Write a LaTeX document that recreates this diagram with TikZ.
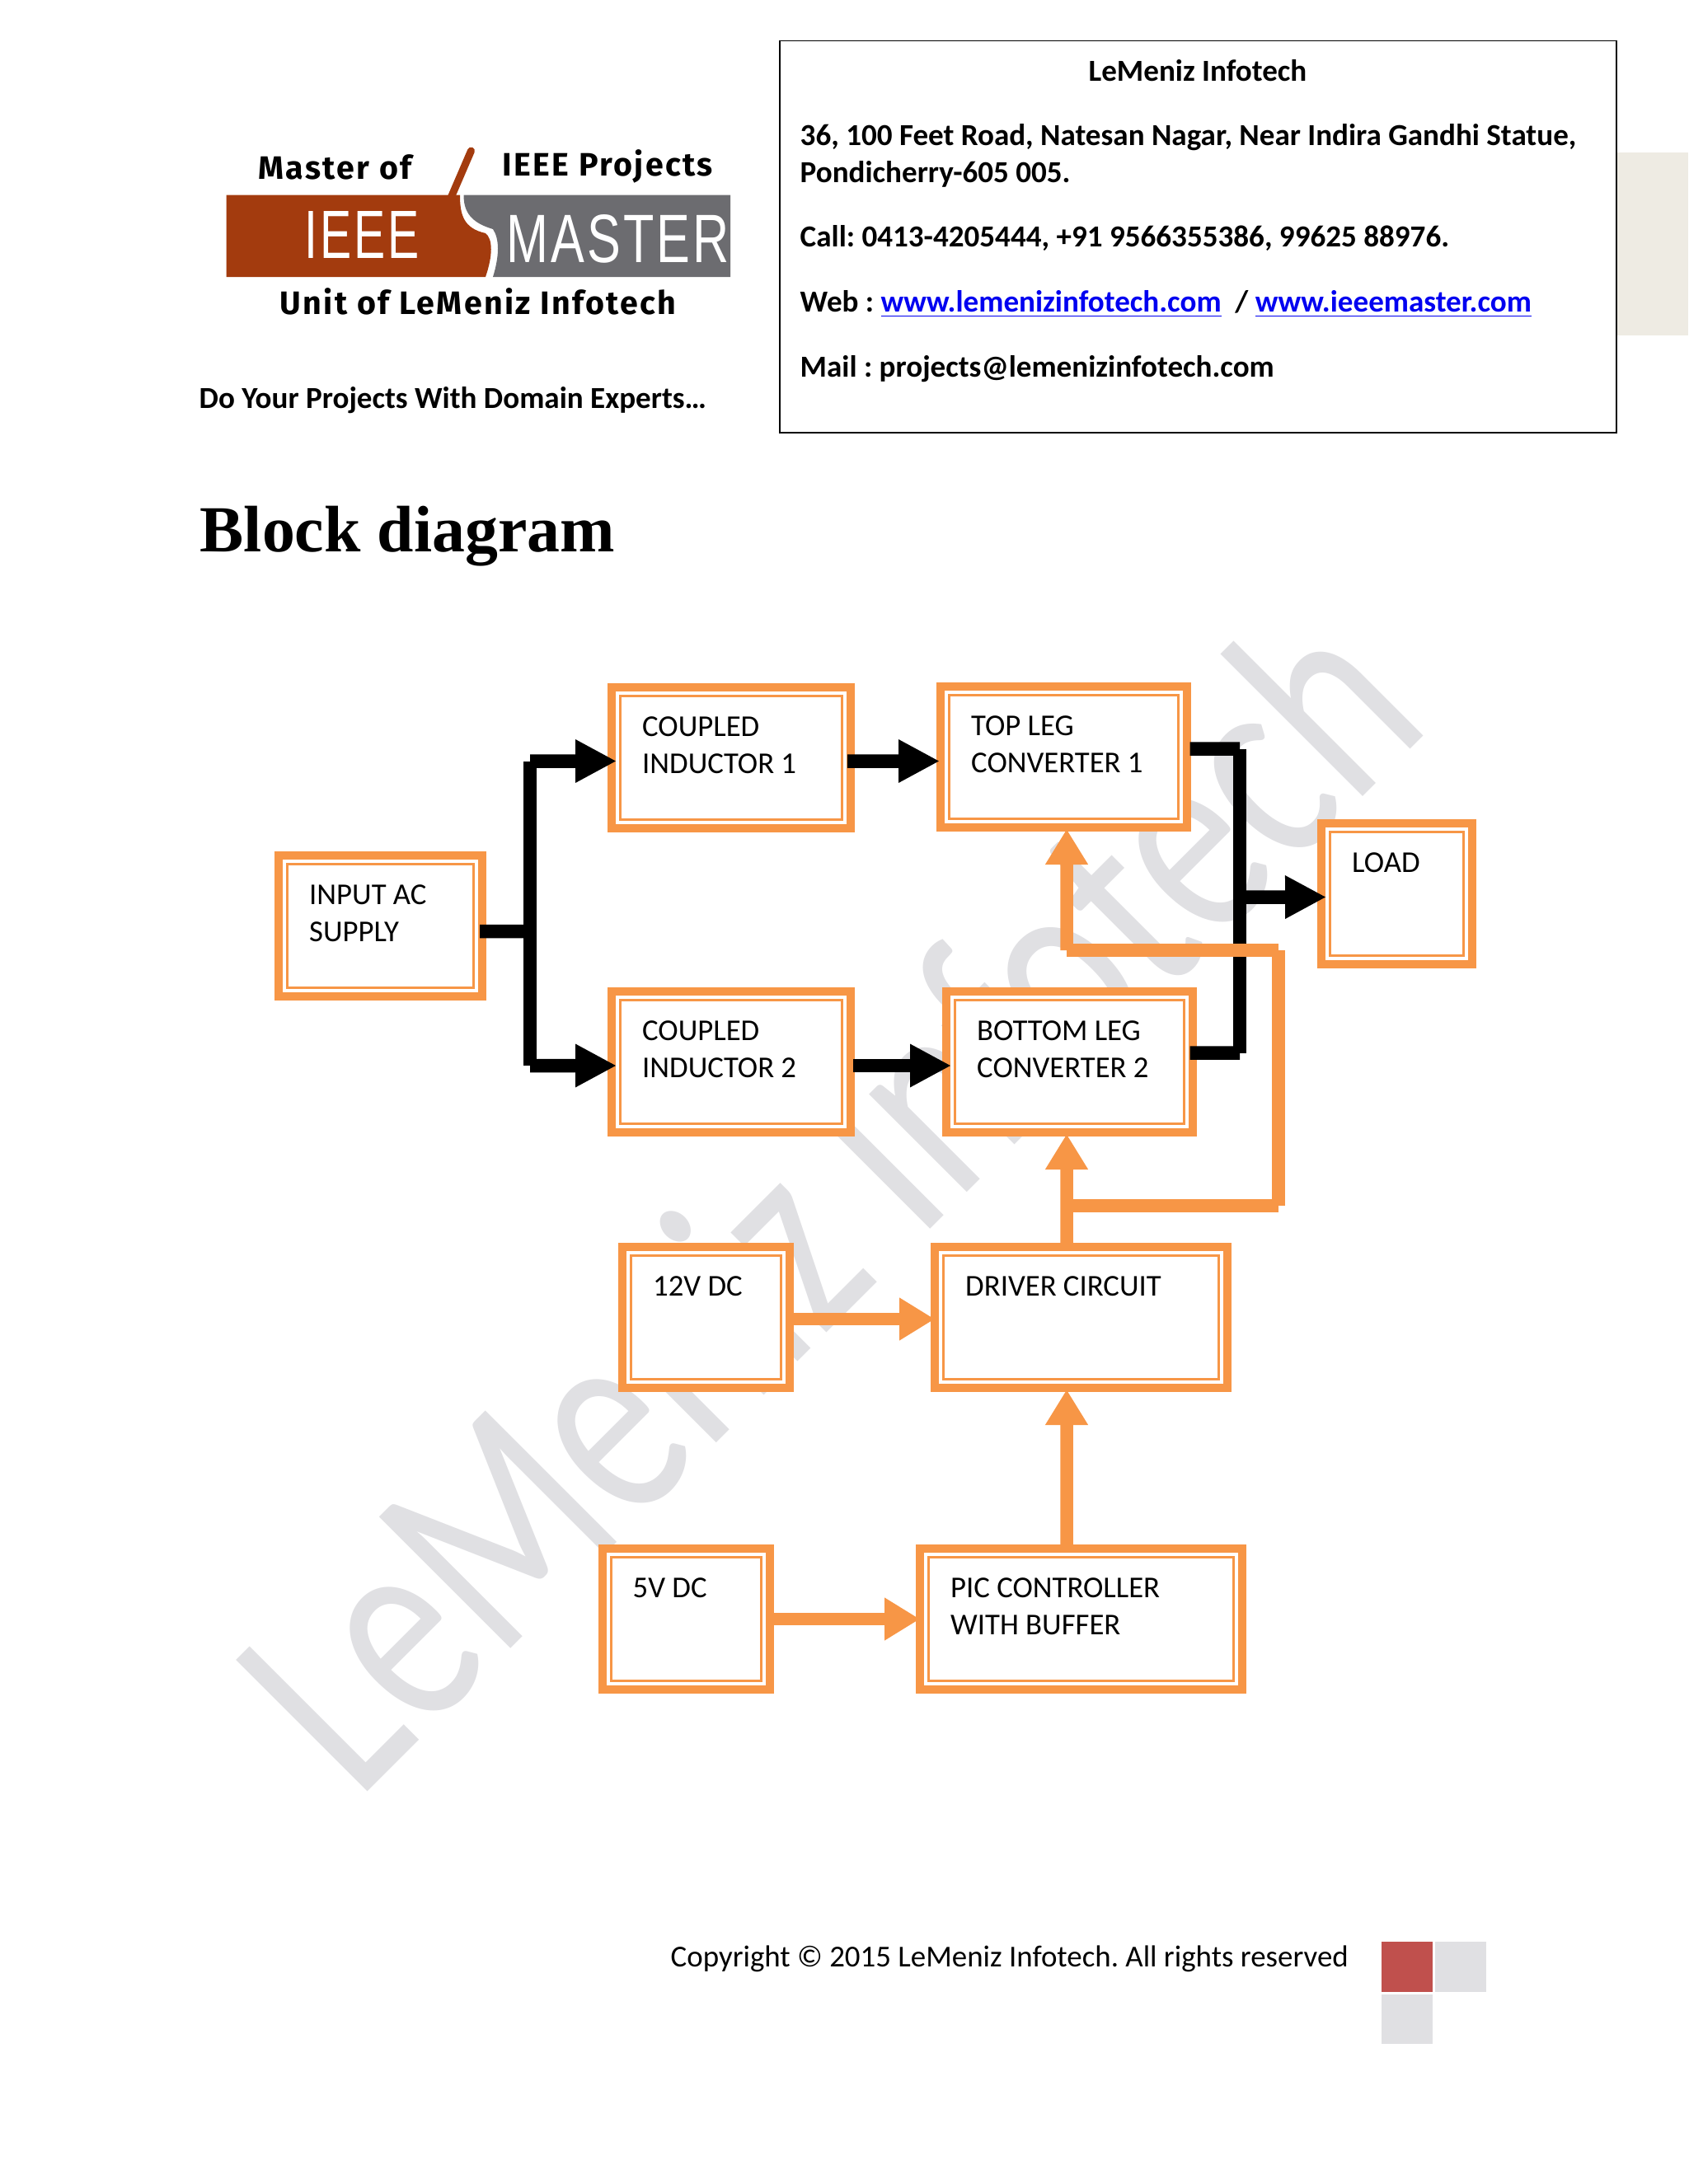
\documentclass[tikz,border=0pt]{standalone}
\usepackage{fontspec}
\setmainfont{Carlito}
\newfontfamily\titlefont{Liberation Serif}
\newfontfamily\logofont[LetterSpace=6]{Fira Sans}
\newfontfamily\logobig[LetterSpace=5]{Liberation Sans}
\definecolor{blockorange}{RGB}{247,150,70}
\definecolor{markgray}{RGB}{224,224,227}
\definecolor{sidebeige}{RGB}{238,235,227}
\definecolor{linkblue}{RGB}{0,0,240}
\definecolor{logobrown}{RGB}{163,59,14}
\definecolor{logogray}{RGB}{108,108,112}
\definecolor{cornerred}{RGB}{192,80,77}
\usetikzlibrary{arrows.meta,calc}
\tikzset{
  thinband/.style={draw=blockorange, line width=0.3mm},
  ieeeblock/.style={draw=blockorange, fill=white, line width=1mm, inner sep=0pt, outer sep=0pt,
    minimum height=1.71cm, anchor=north west,
    path picture={\draw[thinband] ($(path picture bounding box.north west)+(0.105,-0.105)$) rectangle ($(path picture bounding box.south east)+(-0.105,0.105)$);}},
  blocktext/.style={anchor=north west, inner sep=0pt, align=left, font=\fontsize{10.45}{12.9}\selectfont},
  headtext/.style={anchor=base west, inner sep=0pt, font=\fontsize{10.55}{12.95}\selectfont\bfseries},
  logotext/.style={anchor=base west, inner sep=0pt, font=\fontsize{11.2}{12}\selectfont\logofont\bfseries},
  blackline/.style={draw=black, line width=1.65mm},
  blackarrow/.style={blackline, -{Triangle[length=5mm,width=4.9mm]}, shorten >=-0.3mm},
  orangeline/.style={draw=blockorange, line width=1.55mm},
  orangearrow/.style={orangeline, -{Triangle[length=4.3mm,width=4.9mm]}, shorten >=-0.3mm},
}
\newcommand{\weblink}[1]{\textcolor{linkblue}{\underline{#1}}}
\frenchspacing
\begin{document}
\begin{tikzpicture}
  \useasboundingbox (0,0) rectangle (20.48,-26.50);

  % watermark and page furniture
  \node[rotate=45, anchor=base west, inner sep=0pt, text=markgray, font=\fontsize{100}{120}\selectfont] (watermark) at (4.33,-21.87) {\resizebox{18.45cm}{\height}{LeMeniz Infotech}};
  \fill[sidebeige] (19.62,-1.85) rectangle (20.48,-4.07);
  \fill[cornerred] (16.76,-23.56) rectangle (17.38,-24.17);
  \fill[markgray] (17.41,-23.56) rectangle (18.03,-24.17);
  \fill[markgray] (16.76,-24.20) rectangle (17.38,-24.80);

  % logo
  \fill[logobrown] (2.746,-2.367) -- (5.47,-2.367) -- (5.58,-2.367)
    .. controls (5.58,-2.60) and (5.62,-2.77) .. (5.89,-2.83)
    .. controls (5.98,-2.90) and (5.98,-3.10) .. (5.89,-3.36) -- (2.746,-3.36) -- cycle;
  \draw[logobrown, line width=0.9mm, line cap=round] (5.47,-2.40) -- (5.715,-1.83);
  \fill[logogray] (5.626,-2.367) -- (8.86,-2.367) -- (8.86,-3.36) -- (5.98,-3.36)
    .. controls (6.06,-3.10) and (6.06,-2.90) .. (5.98,-2.78)
    .. controls (5.78,-2.72) and (5.62,-2.62) .. (5.626,-2.367) -- cycle;
  \node[logotext] (logomaster) at (3.13,-2.17) {Master of};
  \node[logotext] (logoprojects) at (6.09,-2.13) {IEEE Projects};
  \node[logotext] (logounit) at (3.39,-3.817) {Unit of LeMeniz Infotech};
  \node[anchor=base west, inner sep=0pt, text=white] (logoieee) at (3.69,-3.13) {\resizebox{1.39cm}{0.57cm}{\logobig IEEE}};
  \node[anchor=base west, inner sep=0pt, text=white] (logoname) at (6.14,-3.18) {\resizebox{2.70cm}{0.58cm}{\logobig MASTER}};
  \node[headtext] (tagline) at (2.41,-4.95) {Do Your Projects With Domain Experts…};

  % address box
  \node[draw=black, line width=0.15mm, inner sep=0pt, anchor=north west, minimum width=10.15cm, minimum height=4.75cm] (addressbox) at (9.45,-0.49) {};
  \node[headtext, anchor=base] (company) at (14.53,-0.99) {LeMeniz Infotech};
  \node[headtext] (streetline) at (9.70,-1.765) {36, 100 Feet Road, Natesan Nagar, Near Indira Gandhi Statue,};
  \node[headtext] (cityline) at (9.70,-2.22) {Pondicherry-605 005.};
  \node[headtext] (callline) at (9.70,-3.00) {Call: 0413-4205444, +91 9566355386, 99625 88976.};
  \node[headtext] (webline) at (9.70,-3.785) {Web : \weblink{www.lemenizinfotech.com}\ \ / \weblink{www.ieeemaster.com}};
  \node[headtext] (mailline) at (9.70,-4.57) {Mail : projects@lemenizinfotech.com};

  \node[anchor=base west, inner sep=0pt, font=\fontsize{22.7}{27}\selectfont\titlefont\bfseries] (heading) at (2.42,-6.69) {Block diagram};
  \node[anchor=base west, inner sep=0pt, font=\fontsize{10.5}{12.95}\selectfont] (copyright) at (8.13,-23.86) {Copyright © 2015 LeMeniz Infotech. All rights reserved};

  % blocks
  \node[ieeeblock, minimum width=2.47cm] (input) at (3.38,-10.38) {};
  \node[ieeeblock, minimum width=2.90cm] (couple1) at (7.42,-8.34) {};
  \node[ieeeblock, minimum width=2.90cm] (couple2) at (7.42,-12.03) {};
  \node[ieeeblock, minimum width=2.99cm] (topleg) at (11.41,-8.33) {};
  \node[ieeeblock, minimum width=2.99cm] (bottomleg) at (11.48,-12.03) {};
  \node[ieeeblock, minimum width=1.83cm] (load) at (16.03,-9.99) {};
  \node[ieeeblock, minimum width=2.03cm] (dc12) at (7.55,-15.13) {};
  \node[ieeeblock, minimum width=3.55cm] (driver) at (11.34,-15.13) {};
  \node[ieeeblock, minimum width=2.03cm] (dc5) at (7.305,-18.79) {};
  \node[ieeeblock, minimum width=3.91cm] (pic) at (11.16,-18.79) {};

  \node[blocktext] (inputtext) at ($(input.north west)+(0.365,-0.345)$) {INPUT AC\\SUPPLY};
  \node[blocktext] (couple1text) at ($(couple1.north west)+(0.365,-0.345)$) {COUPLED\\INDUCTOR 1};
  \node[blocktext] (couple2text) at ($(couple2.north west)+(0.365,-0.345)$) {COUPLED\\INDUCTOR 2};
  \node[blocktext] (toplegtext) at ($(topleg.north west)+(0.365,-0.345)$) {TOP LEG\\CONVERTER 1};
  \node[blocktext] (bottomlegtext) at ($(bottomleg.north west)+(0.365,-0.345)$) {BOTTOM LEG\\CONVERTER 2};
  \node[blocktext] (loadtext) at ($(load.north west)+(0.365,-0.345)$) {LOAD};
  \node[blocktext] (dc12text) at ($(dc12.north west)+(0.365,-0.345)$) {12V DC};
  \node[blocktext] (drivertext) at ($(driver.north west)+(0.365,-0.345)$) {DRIVER CIRCUIT};
  \node[blocktext] (dc5text) at ($(dc5.north west)+(0.365,-0.345)$) {5V DC};
  \node[blocktext] (pictext) at ($(pic.north west)+(0.365,-0.345)$) {PIC CONTROLLER\\WITH BUFFER};

  % junctions
  \coordinate (splitmid) at (6.43,-11.30);
  \coordinate (splittop) at (6.43,-9.235);
  \coordinate (splitbot) at (6.43,-12.93);
  \coordinate (sumtop) at (15.04,-9.085);
  \coordinate (summid) at (15.04,-10.886);
  \coordinate (sumbot) at (15.04,-12.776);
  \coordinate (feedup) at (12.94,-11.53);
  \coordinate (feedcorner) at (15.51,-11.53);
  \coordinate (feedlow) at (15.51,-14.63);
  \coordinate (feedout) at (12.94,-14.63);

  % power path
  \draw[blackline] ($(input.east)+(-0.03,-0.065)$) -- (splitmid);
  \draw[blackline] (splittop) -- (splitbot);
  \draw[blackarrow] (splittop) -- ($(couple1.west)+(0.03,-0.04)$);
  \draw[blackarrow] (splitbot) -- ($(couple2.west)+(0.03,-0.045)$);
  \draw[blackarrow] ($(couple1.east)+(-0.04,-0.04)$) -- ($(topleg.west)+(-0.04,-0.05)$);
  \draw[blackarrow] ($(couple2.east)+(0.03,-0.045)$) -- ($(bottomleg.west)+(0.03,-0.045)$);
  \draw[blackline] ($(topleg.east)+(0.035,0.10)$) -- (sumtop);
  \draw[blackline] ($(bottomleg.east)+(-0.035,0.109)$) -- (sumbot);
  \draw[blackline] (sumtop) -- (sumbot);
  \draw[blackarrow] (summid) -- ($(load.west)+(0.03,-0.04)$);

  % control path
  \draw[orangearrow] (feedup) -- ($(topleg.south)+(0.035,-0.05)$);
  \draw[orangeline] (feedup) -- (feedcorner);
  \draw[orangeline] (feedcorner) -- (feedlow);
  \draw[orangeline] (feedout) -- (feedlow);
  \draw[orangearrow] ($(driver.north)+(-0.175,0)$) -- ($(bottomleg.south)+(-0.035,-0.05)$);
  \draw[orangearrow] ($(pic.north)+(-0.175,0)$) -- ($(driver.south)+(-0.175,-0.05)$);
  \draw[orangearrow] ($(dc12.east)+(0.05,-0.02)$) -- ($(driver.west)+(-0.03,-0.02)$);
  \draw[orangearrow] ($(dc5.east)+(0.045,0)$) -- ($(pic.west)+(-0.03,0)$);
\end{tikzpicture}
\end{document}
